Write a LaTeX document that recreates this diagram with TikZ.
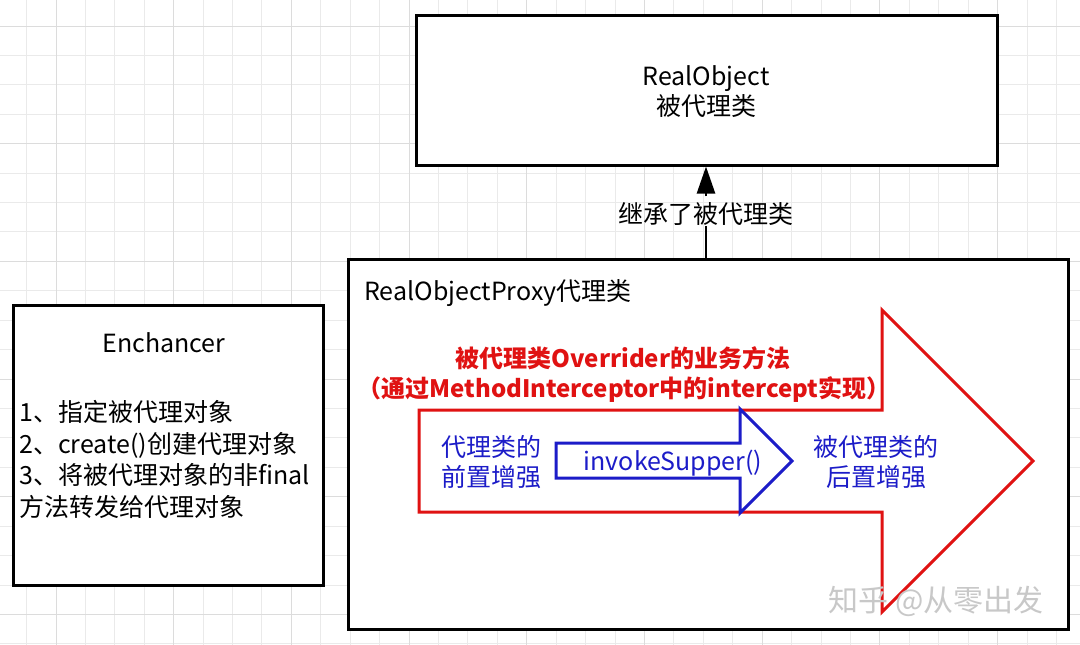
\documentclass[tikz,border=0pt]{standalone}
\usepackage{fontspec}
\setmainfont{Noto Sans CJK SC}
\usetikzlibrary{arrows.meta}
\definecolor{redc}{RGB}{224,18,18}
\definecolor{bluec}{RGB}{28,28,200}
\definecolor{gridminor}{RGB}{234,234,234}
\definecolor{gridmajor}{RGB}{220,220,220}
\definecolor{wmgray}{RGB}{200,200,200}
\begin{document}
\begin{tikzpicture}[x=1pt,y=-1pt,
  box/.style={draw=black, line width=2.5pt, fill=white, inner sep=0pt},
  txt/.style={font=\fontsize{25}{30}\selectfont, inner sep=0pt, align=center},
  redarrow/.style={draw=redc, line width=3pt, line join=miter},
  bluearrow/.style={draw=bluec, line width=3pt, line join=miter},
  conn/.style={line width=2.5pt, draw=black}]
\useasboundingbox (0,0) rectangle (1080,645);
\fill[white] (0,0) rectangle (1080,645);
% grid
\foreach \k in {-1,...,34} {\draw[gridminor, line width=1pt] ({56+29.425*\k},0) -- ({56+29.425*\k},645);}
\foreach \k in {0,...,21} {\draw[gridminor, line width=1pt] (0,{26+29.425*\k}) -- (1080,{26+29.425*\k});}
\foreach \k in {0,...,8} {\draw[gridmajor, line width=1pt] ({56+117.7*\k},0) -- ({56+117.7*\k},645);}
\foreach \k in {0,...,5} {\draw[gridmajor, line width=1pt] (0,{26+117.7*\k}) -- (1080,{26+117.7*\k});}
% boxes
\node[box, anchor=north west, minimum width=581pt, minimum height=150pt] (realobj) at (415,14) {};
\node[txt] (realtxt) at (706,92) {RealObject\\被代理类};
\node[box, anchor=north west, minimum width=720pt, minimum height=370pt] (proxy) at (347,258) {};
\node[box, anchor=north west, minimum width=310pt, minimum height=280pt] (enh) at (12,304) {};
% inheritance connector
\node[txt] (inherit) at (706,214) {继承了被代理类};
\draw[conn] (inherit |- proxy.north) -- (inherit.south);
\draw[conn, -{Triangle[width=18pt,length=27pt]}] ([yshift=6pt]inherit.north) -- (inherit |- realobj.south);
% proxy contents
\node[txt, anchor=west] (ptitle) at (364,293) {RealObjectProxy代理类};
\draw[redarrow] (419,410) -- (882,410) -- (882,310) -- (1033,461) -- (882,612) -- (882,512) -- (419,512) -- cycle;
\draw[bluearrow] (556,443) -- (740,443) -- (740,409) -- (792,461) -- (740,513) -- (740,478) -- (556,478) -- cycle;
\node[txt, text=redc, font=\fontsize{24}{30}\selectfont\bfseries] (red1) at (623,358) {被代理类Overrider的业务方法};
\node[txt, text=redc, font=\fontsize{24}{30}\selectfont\bfseries] (red2) at (624,390) {（通过MethodInterceptor中的intercept实现）};
\node[txt, text=bluec] (pre) at (491,462) {代理类的\\前置增强};
\node[txt, text=bluec] (invoke) at (673,463) {invokeSupper()};
\node[txt, text=bluec] (post) at (876,462) {被代理类的\\后置增强};
\node[txt, text=wmgray, font=\fontsize{30}{32}\selectfont] (wm) at (936,601) {知乎 @从零出发};
% enchancer contents
\node[txt] (enhtitle) at (164,343) {Enchancer};
\node[txt, anchor=west, align=left, font=\fontsize{25}{31.5}\selectfont] (enhlist) at (19,459.5) {1、指定被代理对象\\2、create()创建代理对象\\3、将被代理对象的非final\\方法转发给代理对象};
\end{tikzpicture}
\end{document}
